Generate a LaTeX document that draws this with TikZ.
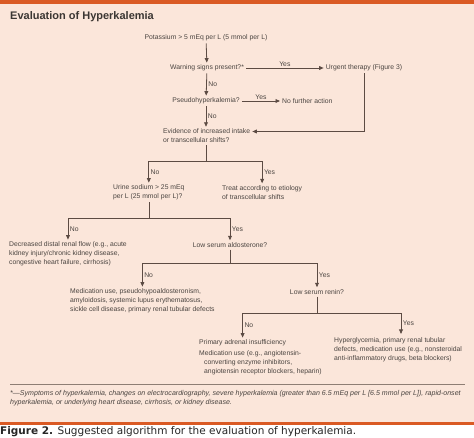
\documentclass[tikz,border=0pt]{standalone}
\usepackage{fontspec}
\setmainfont{Liberation Sans}
\newfontfamily\capfont{DejaVu Sans}
\usetikzlibrary{arrows.meta}
\definecolor{pagebg}{HTML}{FBE6DA}
\definecolor{barcol}{HTML}{DA5A24}
\definecolor{txtcol}{HTML}{4A4440}
\definecolor{linecol}{HTML}{5C4B43}
\definecolor{rulecol}{HTML}{8E7E74}
\tikzset{
  txt/.style={font=\fontsize{6.8}{9}\selectfont, text=txtcol, inner sep=2pt, align=left},
  lbl/.style={font=\fontsize{6.8}{8}\selectfont, text=txtcol, inner sep=1.5pt},
  ln/.style={draw=linecol, line width=0.8pt},
  arr/.style={ln, -{Triangle[length=4.5pt,width=3.8pt]}},
}
\begin{document}
\begin{tikzpicture}[x=1pt,y=-1pt]
  \useasboundingbox (0,0) rectangle (474,438);
  % Drawing page background and bars
  \fill[pagebg] (0,0) rectangle (474,421.5);
  \fill[barcol] (0,0) rectangle (474,4);
  \fill[barcol] (0,421.5) rectangle (474,425);
  \node[anchor=west, inner sep=0, font=\fontsize{11}{13}\selectfont\bfseries, text=txtcol!80!black] (title) at (10,17) {Evaluation of Hyperkalemia};

  % Marking the question nodes
  \node[txt] (pot) at (206,38) {Potassium > 5 mEq per L (5 mmol per L)};
  \node[txt] (warn) at (207,68) {Warning signs present?*};
  \node[txt] (urgent) at (364,68) {Urgent therapy (Figure 3)};
  \node[txt] (pseudo) at (206,101) {Pseudohyperkalemia?};
  \node[txt, anchor=west] (nofurther) at (280,101) {No further action};
  \node[txt, anchor=west] (evid) at (161,136) {Evidence of increased intake\\or transcellular shifts?};
  \node[txt, anchor=west] (urine) at (111,192.5) {Urine sodium > 25 mEq\\per L (25 mmol per L)?};
  \node[txt, anchor=west] (treat) at (220,192.5) {Treat according to etiology\\of transcellular shifts};
  \node[txt, anchor=west] (decr) at (7,254) {Decreased distal renal flow (e.g., acute\\kidney injury/chronic kidney disease,\\congestive heart failure, cirrhosis)};
  \node[txt] (aldo) at (230,245) {Low serum aldosterone?};
  \node[txt, anchor=west] (med) at (68,301) {Medication use, pseudohypoaldosteronism,\\amyloidosis, systemic lupus erythematosus,\\sickle cell disease, primary renal tubular defects};
  \node[txt] (renin) at (317,292) {Low serum renin?};
  \node[txt, anchor=west] (adrenal) at (197,343) {Primary adrenal insufficiency};
  \node[txt, anchor=west] (meduse) at (197,363) {Medication use (e.g., angiotensin-\\\hspace*{5pt}converting enzyme inhibitors,\\\hspace*{5pt}angiotensin receptor blockers, heparin)};
  \node[txt, anchor=west] (hyper) at (332,350) {Hyperglycemia, primary renal tubular\\defects, medication use (e.g., nonsteroidal\\anti-inflammatory drugs, beta blockers)};

  % Branch points
  \coordinate (j1) at (206,161);
  \coordinate (j2) at (149,218);
  \coordinate (j3) at (230,263);
  \coordinate (j4) at (317,313);
  \coordinate (hyptop) at (401,334);

  % Drawing the connectors
  \draw[arr] (pot) -- (warn);
  \draw[arr] (warn) -- node[lbl, above] {Yes} (urgent);
  \draw[arr] (urgent) |- ([yshift=4.5pt]evid.east);
  \draw[arr] (warn) -- node[lbl, right] {No} (pseudo);
  \draw[arr] (pseudo) -- node[lbl, above] {Yes} (nofurther);
  \draw[arr] (pseudo) -- node[lbl, right] {No} (evid.north -| pseudo);
  \draw[ln] (evid.south -| j1) -- (j1);
  \draw[arr] (j1) -| node[lbl, pos=0.75, right] {No} (urine);
  \draw[arr] (j1) -| node[lbl, pos=0.75, right] {Yes} (treat);
  \draw[ln] (urine.south -| j2) -- (j2);
  \draw[arr] (j2) -| node[lbl, pos=0.75, right] {No} (decr);
  \draw[arr] (j2) -| node[lbl, pos=0.75, right] {Yes} (aldo);
  \draw[ln] (aldo) -- (j3);
  \draw[arr] (j3) -| node[lbl, pos=0.75, right] {No} (med);
  \draw[arr] (j3) -| node[lbl, pos=0.75, right] {Yes} (renin);
  \draw[ln] (renin) -- (j4);
  \draw[arr] (j4) -| node[lbl, pos=0.75, right] {No} (adrenal);
  \draw[arr] (j4) -| node[lbl, pos=0.75, right] {Yes} (hyptop);

  % Drawing footnote
  \draw[rulecol, line width=1pt] (10,384) -- (465,384);
  \node[anchor=west, inner sep=0, align=left, font=\fontsize{7.05}{9}\selectfont\itshape, text=txtcol] (note) at (10,398.5) {*---Symptoms of hyperkalemia, changes on electrocardiography, severe hyperkalemia (greater than 6.5 mEq per L [6.5 mmol per L]), rapid-onset\\hyperkalemia, or underlying heart disease, cirrhosis, or kidney disease.};
  \node[anchor=base west, inner sep=0, font=\capfont\fontsize{10.5}{12}\selectfont, text=black!85] (caption) at (0,434.8) {\textbf{Figure 2.} Suggested algorithm for the evaluation of hyperkalemia.};
\end{tikzpicture}
\end{document}
